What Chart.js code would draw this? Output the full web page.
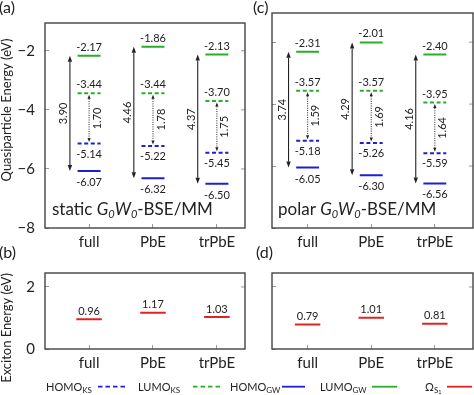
<!DOCTYPE html>
<html>
<head>
<meta charset="utf-8">
<script src="https://cdn.jsdelivr.net/npm/chart.js@4.4.0/dist/chart.umd.min.js"></script>
<style>
  body { margin: 0; background: #fff; }
  #wrap { position: relative; width: 474px; height: 395px; overflow: hidden; }
  canvas { position: absolute; }
</style>
</head>
<body>
<div id="wrap">
  <canvas id="chartA" width="248" height="252" style="left:0;top:0"></canvas>
  <canvas id="chartC" width="226" height="252" style="left:248px;top:0"></canvas>
  <canvas id="chartB" width="474" height="155" style="left:0;top:240px"></canvas>
  <canvas id="chartD" width="226" height="132" style="left:248px;top:240px"></canvas>
</div>
<script>
// categories and values
const categories = ['full', 'PbE', 'trPbE'];

const staticLumoGW = [-2.17, -1.86, -2.13];
const staticLumoKS = [-3.44, -3.44, -3.70];
const staticHomoKS = [-5.14, -5.22, -5.45];
const staticHomoGW = [-6.07, -6.32, -6.50];
const staticGapGW = ['3.90', '4.46', '4.37'];
const staticGapKS = ['1.70', '1.78', '1.75'];

const polarLumoGW = [-2.31, -2.01, -2.40];
const polarLumoKS = [-3.57, -3.57, -3.95];
const polarHomoKS = [-5.18, -5.26, -5.59];
const polarHomoGW = [-6.05, -6.30, -6.56];
const polarGapGW = ['3.74', '4.29', '4.16'];
const polarGapKS = ['1.59', '1.69', '1.64'];

const staticExciton = [0.96, 1.17, 1.03];
const polarExciton = [0.79, 1.01, 0.81];

const qpTicks = [-8, -6, -4, -2];
const excitonTicks = [0, 2];

const BLUE = 'rgb(30,30,210)';
const GREEN = 'rgb(40,175,40)';
const RED = 'rgb(225,35,35)';
const TEXT = '#222';
const FRAME = '#444';

function levelData(values, hw) {
  const pts = [];
  values.forEach((v, i) => {
    pts.push({x: i - hw, y: v}, {x: i + hw, y: v}, {x: i + hw, y: null});
  });
  return pts;
}

function levelSet(values, color, dashed, hw) {
  return {
    data: levelData(values, hw),
    borderColor: color,
    borderWidth: 2,
    borderDash: dashed ? [4, 2.6] : [],
    pointRadius: 0,
    fill: false,
    spanGaps: false
  };
}

function minus(v) {
  return String(v).replace('-', '\u2212');
}

function drawRich(ctx, x, y, parts) {
  ctx.textAlign = 'left';
  ctx.textBaseline = 'alphabetic';
  parts.forEach(p => {
    ctx.font = p.font;
    ctx.fillText(p.text, x, y + (p.dy || 0));
    x += ctx.measureText(p.text).width;
  });
  return x;
}

function drawArrow(ctx, x, yTop, yBot, dotted) {
  const hl = dotted ? 4 : 6;
  const hw = dotted ? 1.6 : 2.2;
  ctx.save();
  ctx.strokeStyle = TEXT;
  ctx.fillStyle = TEXT;
  ctx.lineWidth = dotted ? 1 : 1.1;
  ctx.setLineDash(dotted ? [1, 1.3] : []);
  ctx.beginPath();
  ctx.moveTo(x, yTop + hl);
  ctx.lineTo(x, yBot - hl);
  ctx.stroke();
  ctx.beginPath();
  ctx.moveTo(x, yTop); ctx.lineTo(x - hw, yTop + hl); ctx.lineTo(x + hw, yTop + hl); ctx.closePath();
  ctx.moveTo(x, yBot); ctx.lineTo(x - hw, yBot - hl); ctx.lineTo(x + hw, yBot - hl); ctx.closePath();
  ctx.fill();
  ctx.restore();
}

function drawVertText(ctx, text, x, y, font) {
  ctx.save();
  ctx.translate(x, y);
  ctx.rotate(-Math.PI / 2);
  ctx.font = font;
  ctx.textAlign = 'center';
  ctx.textBaseline = 'middle';
  ctx.fillText(text, 0, 0);
  ctx.restore();
}

// frame round the plot area, with mirrored inner ticks on the right
const framePlugin = {
  id: 'frame',
  afterDraw(chart) {
    const {ctx, chartArea: a, scales: {y}} = chart;
    ctx.save();
    ctx.strokeStyle = '#999';
    ctx.lineWidth = 1;
    y.ticks.forEach(t => {
      const py = y.getPixelForValue(t.value);
      if (py > a.top + 1 && py < a.bottom - 1) {
        ctx.beginPath();
        ctx.moveTo(a.right - 4, py);
        ctx.lineTo(a.right, py);
        ctx.stroke();
      }
    });
    ctx.strokeStyle = FRAME;
    ctx.lineWidth = 1.4;
    ctx.strokeRect(a.left, a.top, a.right - a.left, a.bottom - a.top);
    ctx.restore();
  }
};

function qpPlugin(lumoGW, lumoKS, homoKS, homoGW, gapGW, gapKS) {
  return {
    id: 'qpLabels',
    afterDatasetsDraw(chart) {
      const {ctx, scales: {x, y}} = chart;
      ctx.save();
      ctx.fillStyle = TEXT;
      ctx.font = '11px Lato';
      ctx.textAlign = 'center';
      ctx.textBaseline = 'alphabetic';
      categories.forEach((c, i) => {
        const cx = x.getPixelForValue(i);
        const yLG = y.getPixelForValue(lumoGW[i]);
        const yLK = y.getPixelForValue(lumoKS[i]);
        const yHK = y.getPixelForValue(homoKS[i]);
        const yHG = y.getPixelForValue(homoGW[i]);
        ctx.fillText(lumoGW[i].toFixed(2), cx, yLG - 5);
        ctx.fillText(lumoKS[i].toFixed(2), cx, yLK - 5);
        ctx.fillText(homoKS[i].toFixed(2), cx, yHK + 14);
        ctx.fillText(homoGW[i].toFixed(2), cx, yHG + 15);
        const ax = x.getPixelForValue(i - 0.3);
        drawArrow(ctx, ax, yLG, yHG, false);
        drawArrow(ctx, cx, yLK + 1.5, yHK - 1.5, true);
        drawVertText(ctx, gapGW[i], ax - 6.5, (yLG + yHG) / 2, '11px Lato');
        drawVertText(ctx, gapKS[i], cx + 8, (yLK + yHK) / 2, '11px Lato');
      });
      ctx.restore();
    }
  };
}

function excitonPlugin(values) {
  return {
    id: 'excLabels',
    afterDatasetsDraw(chart) {
      const {ctx, scales: {x, y}} = chart;
      ctx.save();
      ctx.fillStyle = TEXT;
      ctx.font = '11px Lato';
      ctx.textAlign = 'center';
      ctx.textBaseline = 'alphabetic';
      values.forEach((v, i) => {
        ctx.fillText(v.toFixed(2), x.getPixelForValue(i), y.getPixelForValue(v) - 4.5);
      });
      ctx.restore();
    }
  };
}

function textPlugin(draw) {
  return { id: 'extraText', afterDraw(chart) { const ctx = chart.ctx; ctx.save(); ctx.fillStyle = TEXT; draw(ctx); ctx.restore(); } };
}

function panelTitle(word) {
  return [
    {text: word + ' ', font: '17px Lato'},
    {text: 'G', font: 'italic 17px Lato'},
    {text: '0', font: 'italic 11px Lato', dy: 3},
    {text: 'W', font: 'italic 17px Lato'},
    {text: '0', font: 'italic 11px Lato', dy: 3},
    {text: '-BSE/MM', font: '17px Lato'}
  ];
}

function scalesFor(xMin, xMax, yMin, yMax, yTicks, yWidth, xHeight, showY) {
  return {
    x: {
      type: 'linear', min: xMin, max: xMax,
      afterBuildTicks: s => { s.ticks = categories.map((c, i) => ({value: i})); },
      afterFit: s => { s.height = xHeight; },
      grid: {drawOnChartArea: false, tickLength: -4, color: '#999'},
      border: {display: false},
      ticks: {font: {family: 'Lato', size: 15}, color: TEXT, padding: 9, maxRotation: 0,
              callback: v => categories[v]}
    },
    y: {
      min: yMin, max: yMax,
      afterBuildTicks: s => { s.ticks = yTicks.map(v => ({value: v})); },
      afterFit: s => { s.width = yWidth; },
      grid: {drawOnChartArea: false, tickLength: -4, color: '#999'},
      border: {display: false},
      ticks: {display: showY, font: {family: 'Lato', size: 15}, color: TEXT, padding: 14,
              callback: v => minus(v)}
    }
  };
}

function baseOptions(scales, padding) {
  return {
    responsive: false,
    animation: false,
    events: [],
    layout: {padding: padding},
    plugins: {legend: {display: false}, tooltip: {enabled: false}},
    scales: scales
  };
}

function build() {
  // (a) static quasiparticle levels
  new Chart(document.getElementById('chartA'), {
    type: 'line',
    data: {datasets: [
      levelSet(staticLumoGW, GREEN, false, 0.18),
      levelSet(staticLumoKS, GREEN, true, 0.18),
      levelSet(staticHomoKS, BLUE, true, 0.18),
      levelSet(staticHomoGW, BLUE, false, 0.18)
    ]},
    options: baseOptions(scalesFor(-0.69, 2.44, -8, -1.06, qpTicks, 45, 24, true),
                         {top: 13, right: 3, left: 0, bottom: 0}),
    plugins: [framePlugin,
      qpPlugin(staticLumoGW, staticLumoKS, staticHomoKS, staticHomoGW, staticGapGW, staticGapKS),
      textPlugin(ctx => {
        drawRich(ctx, 52, 215, panelTitle('static'));
        drawRich(ctx, -1, 13, [{text: '(a)', font: '16px Lato'}]);
        drawVertText(ctx, 'Quasiparticle Energy (eV)', 7, 110, '13px Lato');
      })]
  });

  // (c) polar quasiparticle levels
  new Chart(document.getElementById('chartC'), {
    type: 'line',
    data: {datasets: [
      levelSet(polarLumoGW, GREEN, false, 0.18),
      levelSet(polarLumoKS, GREEN, true, 0.18),
      levelSet(polarHomoKS, BLUE, true, 0.18),
      levelSet(polarHomoGW, BLUE, false, 0.18)
    ]},
    options: baseOptions(scalesFor(-0.56, 2.6, -8, -1.06, qpTicks, 24, 24, false),
                         {top: 13, right: 1, left: 0, bottom: 0}),
    plugins: [framePlugin,
      qpPlugin(polarLumoGW, polarLumoKS, polarHomoKS, polarHomoGW, polarGapGW, polarGapKS),
      textPlugin(ctx => {
        drawRich(ctx, 30, 215, panelTitle('polar'));
        drawRich(ctx, 5, 13, [{text: '(c)', font: '16px Lato'}]);
      })]
  });

  // (b) static exciton energy, plus the shared legend
  new Chart(document.getElementById('chartB'), {
    type: 'line',
    data: {datasets: [levelSet(staticExciton, RED, false, 0.2)]},
    options: baseOptions(scalesFor(-0.69, 2.44, 0, 2.45, excitonTicks, 45, 24, true),
                         {top: 33, right: 229, left: 0, bottom: 22}),
    plugins: [framePlugin, excitonPlugin(staticExciton),
      textPlugin(ctx => {
        drawRich(ctx, -1, 18, [{text: '(b)', font: '16px Lato'}]);
        drawVertText(ctx, 'Exciton Energy (eV)', 7, 88, '13px Lato');
        const ly = 146.7, ty = 150.8;
        const entries = [
          {parts: [['HOMO', 0], ['KS', 1]], x: 46, l: [98, 127], c: BLUE, d: [4.5, 3]},
          {parts: [['LUMO', 0], ['KS', 1]], x: 138, l: [193, 223], c: GREEN, d: [4.5, 3]},
          {parts: [['HOMO', 0], ['GW', 1]], x: 230, l: [282, 305], c: BLUE, d: []},
          {parts: [['LUMO', 0], ['GW', 1]], x: 320, l: [372, 397], c: GREEN, d: []},
          {parts: [['\u03A9', 0], ['S', 1], ['1', 2]], x: 425, l: [447, 472], c: RED, d: []}
        ];
        entries.forEach(e => {
          ctx.fillStyle = TEXT;
          drawRich(ctx, e.x, ty, e.parts.map(p => ({
            text: p[0],
            font: p[1] === 0 ? '11px Lato' : (p[1] === 1 ? '8px Lato' : '5.5px Lato'),
            dy: p[1] === 0 ? 0 : (p[1] === 1 ? 2 : 3.5)
          })));
          ctx.save();
          ctx.strokeStyle = e.c;
          ctx.lineWidth = 1.8;
          ctx.setLineDash(e.d);
          ctx.beginPath();
          ctx.moveTo(e.l[0], ly);
          ctx.lineTo(e.l[1], ly);
          ctx.stroke();
          ctx.restore();
        });
      })]
  });

  // (d) polar exciton energy
  new Chart(document.getElementById('chartD'), {
    type: 'line',
    data: {datasets: [levelSet(polarExciton, RED, false, 0.2)]},
    options: baseOptions(scalesFor(-0.56, 2.6, 0, 2.45, excitonTicks, 24, 23, false),
                         {top: 33, right: 1, left: 0, bottom: 0}),
    plugins: [framePlugin, excitonPlugin(polarExciton),
      textPlugin(ctx => {
        drawRich(ctx, 8, 18, [{text: '(d)', font: '16px Lato'}]);
      })]
  });
}

Promise.all([
  document.fonts.load('15px Lato'),
  document.fonts.load('italic 17px Lato')
]).then(build, build);
</script>
</body>
</html>
